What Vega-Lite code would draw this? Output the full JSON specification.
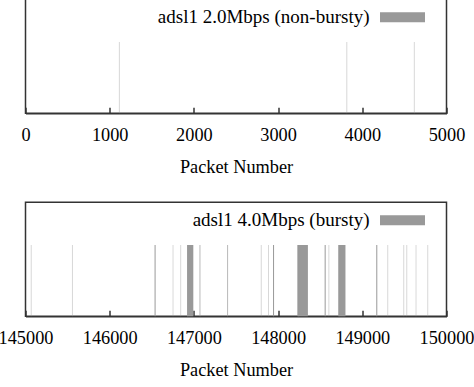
{
  "$schema": "https://vega.github.io/schema/vega-lite/v6.json",
  "background": "white",
  "padding": {"left": -3.5, "top": -1.75, "right": 0, "bottom": 0},
  "spacing": 89,
  "bounds": "flush",
  "config": {
    "view": {"stroke": "#333", "strokeWidth": 1.5},
    "font": "Liberation Serif",
    "axis": {
      "domainColor": "#333", "domainWidth": 1.5, "tickColor": "#333", "tickWidth": 1.5,
      "tickSize": -6, "labelFont": "Liberation Serif", "labelFontSize": 18.3, "labelColor": "black",
      "labelPadding": 19, "labelFlush": false, "labelOverlap": false,
      "titleFont": "Liberation Serif", "titleFontSize": 18.3, "titleFontWeight": "normal",
      "titleColor": "black", "titlePadding": 15, "grid": false
    },
    "legend": {
      "orient": "none", "legendX": 367.5, "legendY": 8.5, "padding": 0,
      "symbolType": "M-4.5,-1H4.5V1H-4.5Z", "symbolSize": 100, "symbolStrokeWidth": 0, "symbolOpacity": 1,
      "labelAlign": "right", "labelOffset": -42.5, "labelFont": "Liberation Serif", "labelFontSize": 19,
      "labelColor": "black", "labelLimit": 0
    }
  },
  "datasets": {
    "nonbursty": [
      {"start": 1115, "end": 1115, "lost": 1},
      {"start": 3816, "end": 3816, "lost": 1},
      {"start": 4618, "end": 4618, "lost": 1}
    ],
    "bursty": [
      {"start": 145068, "end": 145068, "lost": 1},
      {"start": 145558, "end": 145558, "lost": 1},
      {"start": 146539, "end": 146539, "lost": 3},
      {"start": 146752, "end": 146752, "lost": 1},
      {"start": 146843, "end": 146843, "lost": 1},
      {"start": 146925, "end": 146993, "lost": 69},
      {"start": 147072, "end": 147072, "lost": 2},
      {"start": 147400, "end": 147400, "lost": 2},
      {"start": 147800, "end": 147800, "lost": 1},
      {"start": 147886, "end": 147886, "lost": 1},
      {"start": 147946, "end": 147946, "lost": 3},
      {"start": 148235, "end": 148354, "lost": 120},
      {"start": 148559, "end": 148559, "lost": 3},
      {"start": 148603, "end": 148603, "lost": 1},
      {"start": 148721, "end": 148800, "lost": 80},
      {"start": 149172, "end": 149172, "lost": 3},
      {"start": 149302, "end": 149302, "lost": 1},
      {"start": 149492, "end": 149492, "lost": 1},
      {"start": 149528, "end": 149528, "lost": 1},
      {"start": 149638, "end": 149638, "lost": 1},
      {"start": 149777, "end": 149777, "lost": 1}
    ]
  },
  "vconcat": [
    {
      "width": 421, "height": 114,
      "data": {"name": "nonbursty"},
      "layer": [
        {
          "mark": {"type": "rect"},
          "encoding": {
            "x": {"field": "start", "type": "quantitative", "title": "Packet Number",
                  "scale": {"domain": [0, 5000], "nice": false},
                  "axis": {"values": [0, 1000, 2000, 3000, 4000, 5000], "format": "d"}},
            "x2": {"field": "end"},
            "y": {"datum": 1, "type": "quantitative", "scale": {"domain": [0, 1.5]}, "axis": null},
            "y2": {"datum": 0},
            "color": {"datum": "adsl1 2.0Mbps (non-bursty)", "type": "nominal", "scale": {"range": ["#999999"]}, "legend": {"title": null}}
          }
        },
        {
          "mark": {"type": "rule", "strokeWidth": 1, "color": "#999999"},
          "encoding": {
            "x": {"field": "start", "type": "quantitative"},
            "y": {"datum": 1, "type": "quantitative"},
            "y2": {"datum": 0},
            "opacity": {"field": "lost", "type": "quantitative", "scale": {"domain": [1, 3], "range": [0.38, 1], "clamp": true}, "legend": null}
          }
        }
      ]
    },
    {
      "width": 421, "height": 114,
      "data": {"name": "bursty"},
      "layer": [
        {
          "mark": {"type": "rect"},
          "encoding": {
            "x": {"field": "start", "type": "quantitative", "title": "Packet Number",
                  "scale": {"domain": [145000, 150000], "nice": false},
                  "axis": {"values": [145000, 146000, 147000, 148000, 149000, 150000], "format": "d"}},
            "x2": {"field": "end"},
            "y": {"datum": 1, "type": "quantitative", "scale": {"domain": [0, 1.5]}, "axis": null},
            "y2": {"datum": 0},
            "color": {"datum": "adsl1 4.0Mbps (bursty)", "type": "nominal", "scale": {"range": ["#999999"]}, "legend": {"title": null}}
          }
        },
        {
          "mark": {"type": "rule", "strokeWidth": 1, "color": "#999999"},
          "encoding": {
            "x": {"field": "start", "type": "quantitative"},
            "y": {"datum": 1, "type": "quantitative"},
            "y2": {"datum": 0},
            "opacity": {"field": "lost", "type": "quantitative", "scale": {"domain": [1, 3], "range": [0.38, 1], "clamp": true}, "legend": null}
          }
        }
      ]
    }
  ],
  "resolve": {"scale": {"x": "independent", "color": "independent", "opacity": "independent"}}
}
